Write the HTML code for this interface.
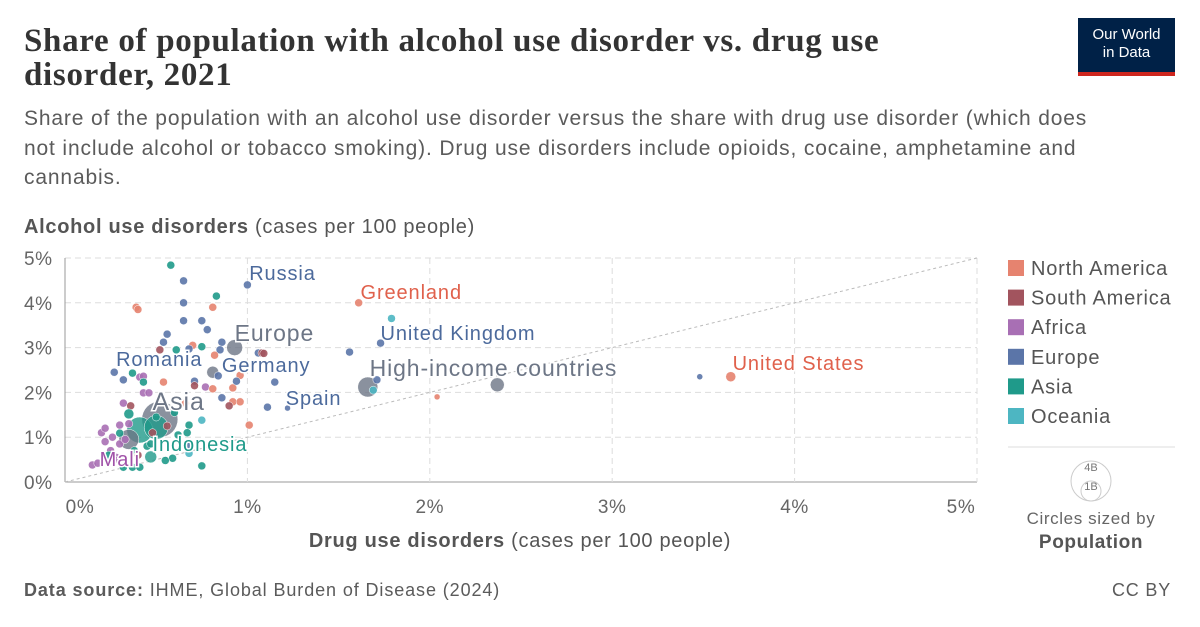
<!DOCTYPE html>
<html><head><meta charset="utf-8"><style>
body{margin:0;background:#fff;font-family:"Liberation Sans",sans-serif}
#wrap{position:relative;width:1200px;height:627px;overflow:hidden}
.t{position:absolute;white-space:nowrap}
</style></head><body><div id="wrap">
<div class="t" style="left:24px;top:24px;font-family:'Liberation Serif',serif;font-size:33px;line-height:34px;color:#333;font-weight:bold;letter-spacing:0.7px">Share of population with alcohol use disorder vs. drug use<br>disorder, 2021</div>
<div style="position:absolute;left:1078px;top:18px;width:97px;height:58px;background:#002147;color:#fff;font-size:15px;line-height:18px;text-align:center;padding-top:8px;box-sizing:border-box;border-bottom:4px solid #ce261e">Our World<br>in Data</div>
<div class="t" style="left:24px;top:104px;font-size:21px;line-height:29.5px;color:#5b5b5b;letter-spacing:0.85px">Share of the population with an alcohol use disorder versus the share with drug use disorder (which does<br>not include alcohol or tobacco smoking). Drug use disorders include opioids, cocaine, amphetamine and<br>cannabis.</div>
<svg id="chart" width="1200" height="627" style="position:absolute;left:0;top:0"></svg>
<div class="t" style="left:24px;top:580px;font-size:18px;color:#5b5b5b;letter-spacing:0.9px"><b>Data source:</b> IHME, Global Burden of Disease (2024)</div>
<div class="t" style="left:1112px;top:580px;font-size:18px;color:#5b5b5b;letter-spacing:0.8px">CC BY</div>
</div>
<script>
const xTicks=[0,1,2,3,4,5];
const yTicks=[0,1,2,3,4,5];
const regions=["North America","South America","Africa","Europe","Asia","Oceania"];
const regionColors=["#e6836f","#a2545e","#a86fb4","#5b75a8","#1f9a8a","#4db6c2"];
const ptX=[0.58,0.65,1.00,0.83,0.65,0.39,0.40,0.81,0.65,0.75,0.78,0.56,0.54,0.70,0.75,0.52,0.61,0.68,0.86,0.85,1.06,1.08,0.82,0.37,0.27,0.41,0.43,0.32,0.43,0.54,0.71,0.71,0.77,0.81,0.84,0.96,0.92,0.94,1.15,0.86,0.92,0.90,0.96,1.11,1.01,0.32,0.36,0.35,0.43,0.46,0.66,0.68,0.75,0.30,0.35,0.30,0.75,0.59,0.32,0.37,0.41,0.55,0.68,0.68,0.67,0.48,0.56,1.61,1.73,1.79,1.56,1.71,1.69,1.09,3.65,3.48,2.04,1.22,0.22,0.25,0.28,0.20,0.15,0.18,0.26,0.30,0.24,0.33,0.38,0.45,0.50,0.60,0.62,0.27,0.22,0.40,0.47];
const ptY=[4.84,4.49,4.40,4.15,4.00,3.90,3.85,3.90,3.60,3.60,3.40,3.30,3.12,3.05,3.02,2.95,2.95,2.97,3.12,2.95,2.88,2.88,2.83,2.43,2.45,2.34,2.36,2.28,2.23,2.23,2.25,2.15,2.12,2.08,2.37,2.38,2.10,2.25,2.23,1.88,1.79,1.70,1.79,1.67,1.27,1.76,1.70,1.52,1.99,1.99,1.76,1.27,1.38,1.27,1.30,1.09,0.36,0.53,0.33,0.33,0.33,0.48,0.64,0.79,1.10,1.10,1.25,4.00,3.10,3.65,2.90,2.28,2.05,2.87,2.35,2.35,1.90,1.65,0.90,0.70,0.55,1.10,0.38,0.42,1.00,0.85,0.60,0.95,0.70,0.80,1.45,1.55,1.05,0.50,1.20,0.60,0.85];
const ptR=[4,4,4,4,4,4,4,4,4,4,4,4,4,4,4,4,4,4,4,4,4,4,4,4,4,4,4,4,4,4,4,4,4,4,4,4,4,4,4,4,4,4,4,4,4,4,4,5,4,4,4,4,4,4,4,4,4,4,4,4,4,4,4,4,4,4,4,4,4,4,4,4,4,4,5,3,3,3,4,4,4,4,4,4,4,4,4,4,4,4,4,4,4,4,4,4,4];
const ptRegion=[4,3,3,4,3,0,0,0,3,3,3,3,3,0,4,1,4,3,3,3,3,1,0,4,3,2,2,3,4,0,3,1,2,0,3,0,0,3,3,3,0,1,0,3,0,2,1,4,2,2,0,4,5,2,2,4,4,4,4,4,4,4,5,3,4,1,1,0,3,5,3,3,5,1,0,3,0,3,2,2,2,2,2,2,2,2,4,2,4,4,4,4,4,2,2,1,4];
const bigX=[0.52,0.41,0.50,0.35,0.93,0.81,1.66,2.37,0.47];
const bigY=[1.40,1.16,1.22,0.95,3.00,2.45,2.12,2.17,0.56];
const bigR=[18,13,12,10,8,6,10,7,6];
const bigC=["#6d7686","#1f9a8a","#1f9a8a","#6d7686","#6d7686","#6d7686","#6d7686","#6d7686","#1f9a8a"];
const labTxt=["Russia","Greenland","United Kingdom","Europe","United States","High-income countries","Romania","Germany","Spain","Asia","Indonesia","Mali"];
const labX=[1.01,1.62,1.73,0.93,3.66,1.67,0.28,0.86,1.21,0.48,0.48,0.19];
const labY=[4.51,4.08,3.17,3.15,2.50,2.37,2.59,2.46,1.72,1.61,0.69,0.36];
const labC=["#4c6a9c","#e0614c","#4c6a9c","#6d7686","#e0614c","#6d7686","#4c6a9c","#4c6a9c","#4c6a9c","#6d7686","#1f9a8a","#a052a8"];
const labS=[19,19,19,22,19,22,19,19,19,24,19,19];

const X0=65,X1=977,Y0=482,Y1=258;
const sx=v=>X0+v/5*(X1-X0), sy=v=>Y0-v/5*(Y0-Y1);
const svg=document.getElementById('chart'),NS="http://www.w3.org/2000/svg";
function mk(tag,attrs,parent){const e=document.createElementNS(NS,tag);for(const k in attrs)e.setAttribute(k,attrs[k]);(parent||svg).appendChild(e);return e;}
yTicks.forEach(v=>{
 const l=mk('line',{x1:X0,x2:X1,y1:sy(v),y2:sy(v),stroke:v?'#ddd':'#999','stroke-dasharray':v?'6,4':'none'});
 
 const t=mk('text',{x:24,y:sy(v)+7,'font-size':19,fill:'#666','letter-spacing':0.6});t.textContent=v+'%';
 
});
xTicks.forEach(v=>{
 const l=mk('line',{x1:sx(v),x2:sx(v),y1:Y1,y2:Y0,stroke:v?'#ddd':'#999','stroke-dasharray':v?'6,4':'none'});
 
 const t=mk('text',{x:v===5?sx(v)-16:sx(v)+(v===0?15:0),y:513,'font-size':19,fill:'#666','text-anchor':'middle','letter-spacing':0.6});t.textContent=v+'%';
 
});
const diag=mk('line',{x1:sx(0),y1:sy(0),x2:sx(5),y2:sy(5),stroke:'#bbb','stroke-dasharray':'3,3'});

bigX.forEach((v,i)=>{
 const c=mk('circle',{cx:sx(v),cy:sy(bigY[i]),r:bigR[i],fill:bigC[i],'fill-opacity':0.8,stroke:'#fff','stroke-width':0.5});
 
});
ptX.forEach((v,i)=>{
 const c=mk('circle',{cx:sx(v),cy:sy(ptY[i]),r:ptR[i],fill:regionColors[ptRegion[i]],'fill-opacity':0.9,stroke:'#fff','stroke-width':0.5});
 
});
labTxt.forEach((s,i)=>{
 const t=mk('text',{x:sx(labX[i]),y:sy(labY[i]),'font-size':labS[i]+1,fill:labC[i],stroke:'#fff','stroke-width':3,'paint-order':'stroke','letter-spacing':0.9});t.textContent=s;
 
});
const yt=mk('text',{x:24,y:233,'font-size':20,fill:'#555','letter-spacing':0.7});yt.innerHTML='<tspan font-weight="bold">Alcohol use disorders</tspan> (cases per 100 people)';

const xt=mk('text',{x:520,y:547,'font-size':20,fill:'#555','text-anchor':'middle','letter-spacing':0.7});xt.innerHTML='<tspan font-weight="bold">Drug use disorders</tspan> (cases per 100 people)';

regions.forEach((r,i)=>{
 const y=269+i*29.6;
 const g=mk('g',{});
 
 mk('rect',{x:1008,y:y-9,width:16,height:16,fill:regionColors[i]},g);
 const t=mk('text',{x:1031,y:y+6,'font-size':20,fill:'#555','letter-spacing':0.8},g);t.textContent=r;
});
mk('line',{x1:1008,x2:1175,y1:447,y2:447,stroke:'#ddd'});
const sg=mk('g',{});
mk('circle',{cx:1091,cy:481,r:20,fill:'none',stroke:'#ccc'},sg);
mk('circle',{cx:1091,cy:491,r:10,fill:'none',stroke:'#ccc'},sg);
let t1=mk('text',{x:1091,y:471,'font-size':11,fill:'#777','text-anchor':'middle'},sg);t1.textContent='4B';
let t2=mk('text',{x:1091,y:490,'font-size':11,fill:'#777','text-anchor':'middle'},sg);t2.textContent='1B';
let t3=mk('text',{x:1091,y:524,'font-size':17,fill:'#666','text-anchor':'middle','letter-spacing':0.6},sg);t3.textContent='Circles sized by';
let t4=mk('text',{x:1091,y:548,'font-size':19,fill:'#555','text-anchor':'middle','font-weight':'bold','letter-spacing':0.6},sg);t4.textContent='Population';
</script></body></html>
